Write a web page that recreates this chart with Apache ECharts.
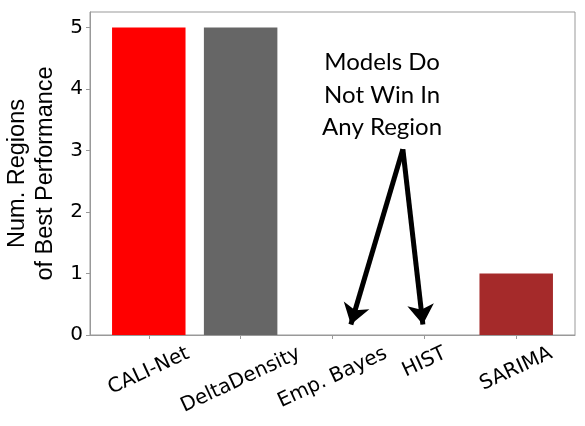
<!DOCTYPE html>
<html><head><meta charset="utf-8">
<script src="https://cdn.jsdelivr.net/npm/echarts@6/dist/echarts.min.js"></script>
<style>html,body{margin:0;padding:0;background:#fff}#c{width:585px;height:426px}</style>
</head><body><div id="c"></div>
<script>
const categories = ['CALI-Net', 'DeltaDensity', 'Emp. Bayes', 'HIST', 'SARIMA'];
const values = [5, 5, 0, 0, 1];
const barColors = ['#ff0000', '#666666', '#1f77b4', '#ff7f0e', '#a52a2a'];
const yTicks = [0, 1, 2, 3, 4, 5];
const annotationText = ['Models Do', 'Not Win In', 'Any Region'];
const annotationAnchor = [2.54, 3.90];
const arrowStart = [2.766, 3.02];
const arrowEnds = [[2.20, 0.17], [2.984, 0.17]];

const FONT = 'DejaVu Sans';
const W = 585, H = 426;
const G = {left: 90, right: 10, top: 12, bottom: 91};
const xMin = -0.64, xMax = 4.64, yMin = 0, yMax = 5.25;
const unit = (W - G.left - G.right) / (xMax - xMin);
const barGrid = {
  left: G.left + (-0.5 - xMin) * unit,
  right: G.right + (xMax - (categories.length - 0.5)) * unit,
  top: G.top, bottom: G.bottom
};

const chart = echarts.init(document.getElementById('c'), null, {renderer: 'canvas'});
const xTickIdx = categories.map((c, i) => i);

chart.setOption({
  animation: false,
  backgroundColor: '#fff',
  grid: [
    {left: G.left, right: G.right, top: G.top, bottom: G.bottom, show: true, borderColor: '#999', borderWidth: 1, containLabel: false, outerBoundsMode: 'none'},
    {left: barGrid.left, right: barGrid.right, top: barGrid.top, bottom: barGrid.bottom, show: false, containLabel: false, outerBoundsMode: 'none'}
  ],
  xAxis: [{
    gridIndex: 0, type: 'value', min: xMin, max: xMax,
    axisLine: {show: true, onZero: false, lineStyle: {color: '#999', width: 1}},
    axisTick: {show: true, customValues: xTickIdx, length: 4, lineStyle: {color: '#999'}},
    axisLabel: {show: false},
    splitLine: {show: false}
  }, {
    gridIndex: 1, type: 'category', data: categories, boundaryGap: true,
    axisLine: {show: false}, axisTick: {show: false}, axisLabel: {show: false}, splitLine: {show: false}
  }],
  yAxis: [{
    gridIndex: 0, type: 'value', min: yMin, max: yMax,
    name: 'Num. Regions\nof Best Performance',
    nameLocation: 'middle', nameGap: 30,
    nameTextStyle: {fontFamily: 'Liberation Sans', fontSize: 23.5, lineHeight: 28, color: '#000'},
    axisLine: {show: true, onZero: false, lineStyle: {color: '#999', width: 1}},
    axisTick: {show: true, customValues: yTicks, length: 4, lineStyle: {color: '#999'}},
    axisLabel: {show: true, customValues: yTicks, margin: 7, fontFamily: FONT, fontSize: 20, color: '#000'},
    splitLine: {show: false}
  }, {
    gridIndex: 1, type: 'value', min: yMin, max: yMax,
    axisLine: {show: false}, axisTick: {show: false}, axisLabel: {show: false}, splitLine: {show: false}
  }],
  series: [{
    type: 'bar', xAxisIndex: 1, yAxisIndex: 1,
    barWidth: '80%',
    data: values.map((v, i) => ({value: v, itemStyle: {color: barColors[i]}}))
  }, {
    type: 'line', xAxisIndex: 0, yAxisIndex: 0, data: [],
    markLine: {
      silent: true,
      symbol: ['none', 'arrow'],
      symbolSize: 20,
      label: {show: false},
      lineStyle: {color: '#000', width: 5, type: 'solid'},
      data: arrowEnds.map(e => [{coord: arrowStart}, {coord: e}])
    },
    markPoint: {
      silent: true,
      data: [{
        coord: annotationAnchor, symbol: 'circle', symbolSize: 0,
        label: {
          show: true, position: 'inside', formatter: annotationText.join('\n'),
          fontFamily: 'Lato', fontSize: 24, lineHeight: 32.5,
          color: '#000', align: 'center', verticalAlign: 'middle'
        }
      }]
    }
  }]
});

function drawLabels() {
  const fs = 20;
  const ctx = document.createElement('canvas').getContext('2d');
  ctx.font = fs + 'px "' + FONT + '"';
  const th = 25 * Math.PI / 180;
  const y0 = chart.convertToPixel({yAxisIndex: 0}, 0);
  const elements = categories.map((c, i) => {
    const w = ctx.measureText(c).width;
    const x = chart.convertToPixel({xAxisIndex: 0}, i);
    const hb = w * Math.sin(th) + fs * 1.17 * Math.cos(th);
    return {
      type: 'text', x: x, y: y0 + 7 + hb / 2, rotation: th, silent: true,
      style: {text: c, fontFamily: FONT, fontSize: fs, fill: '#000', align: 'center', verticalAlign: 'middle'}
    };
  });
  chart.setOption({graphic: elements});
}
drawLabels();
</script>
</body></html>
